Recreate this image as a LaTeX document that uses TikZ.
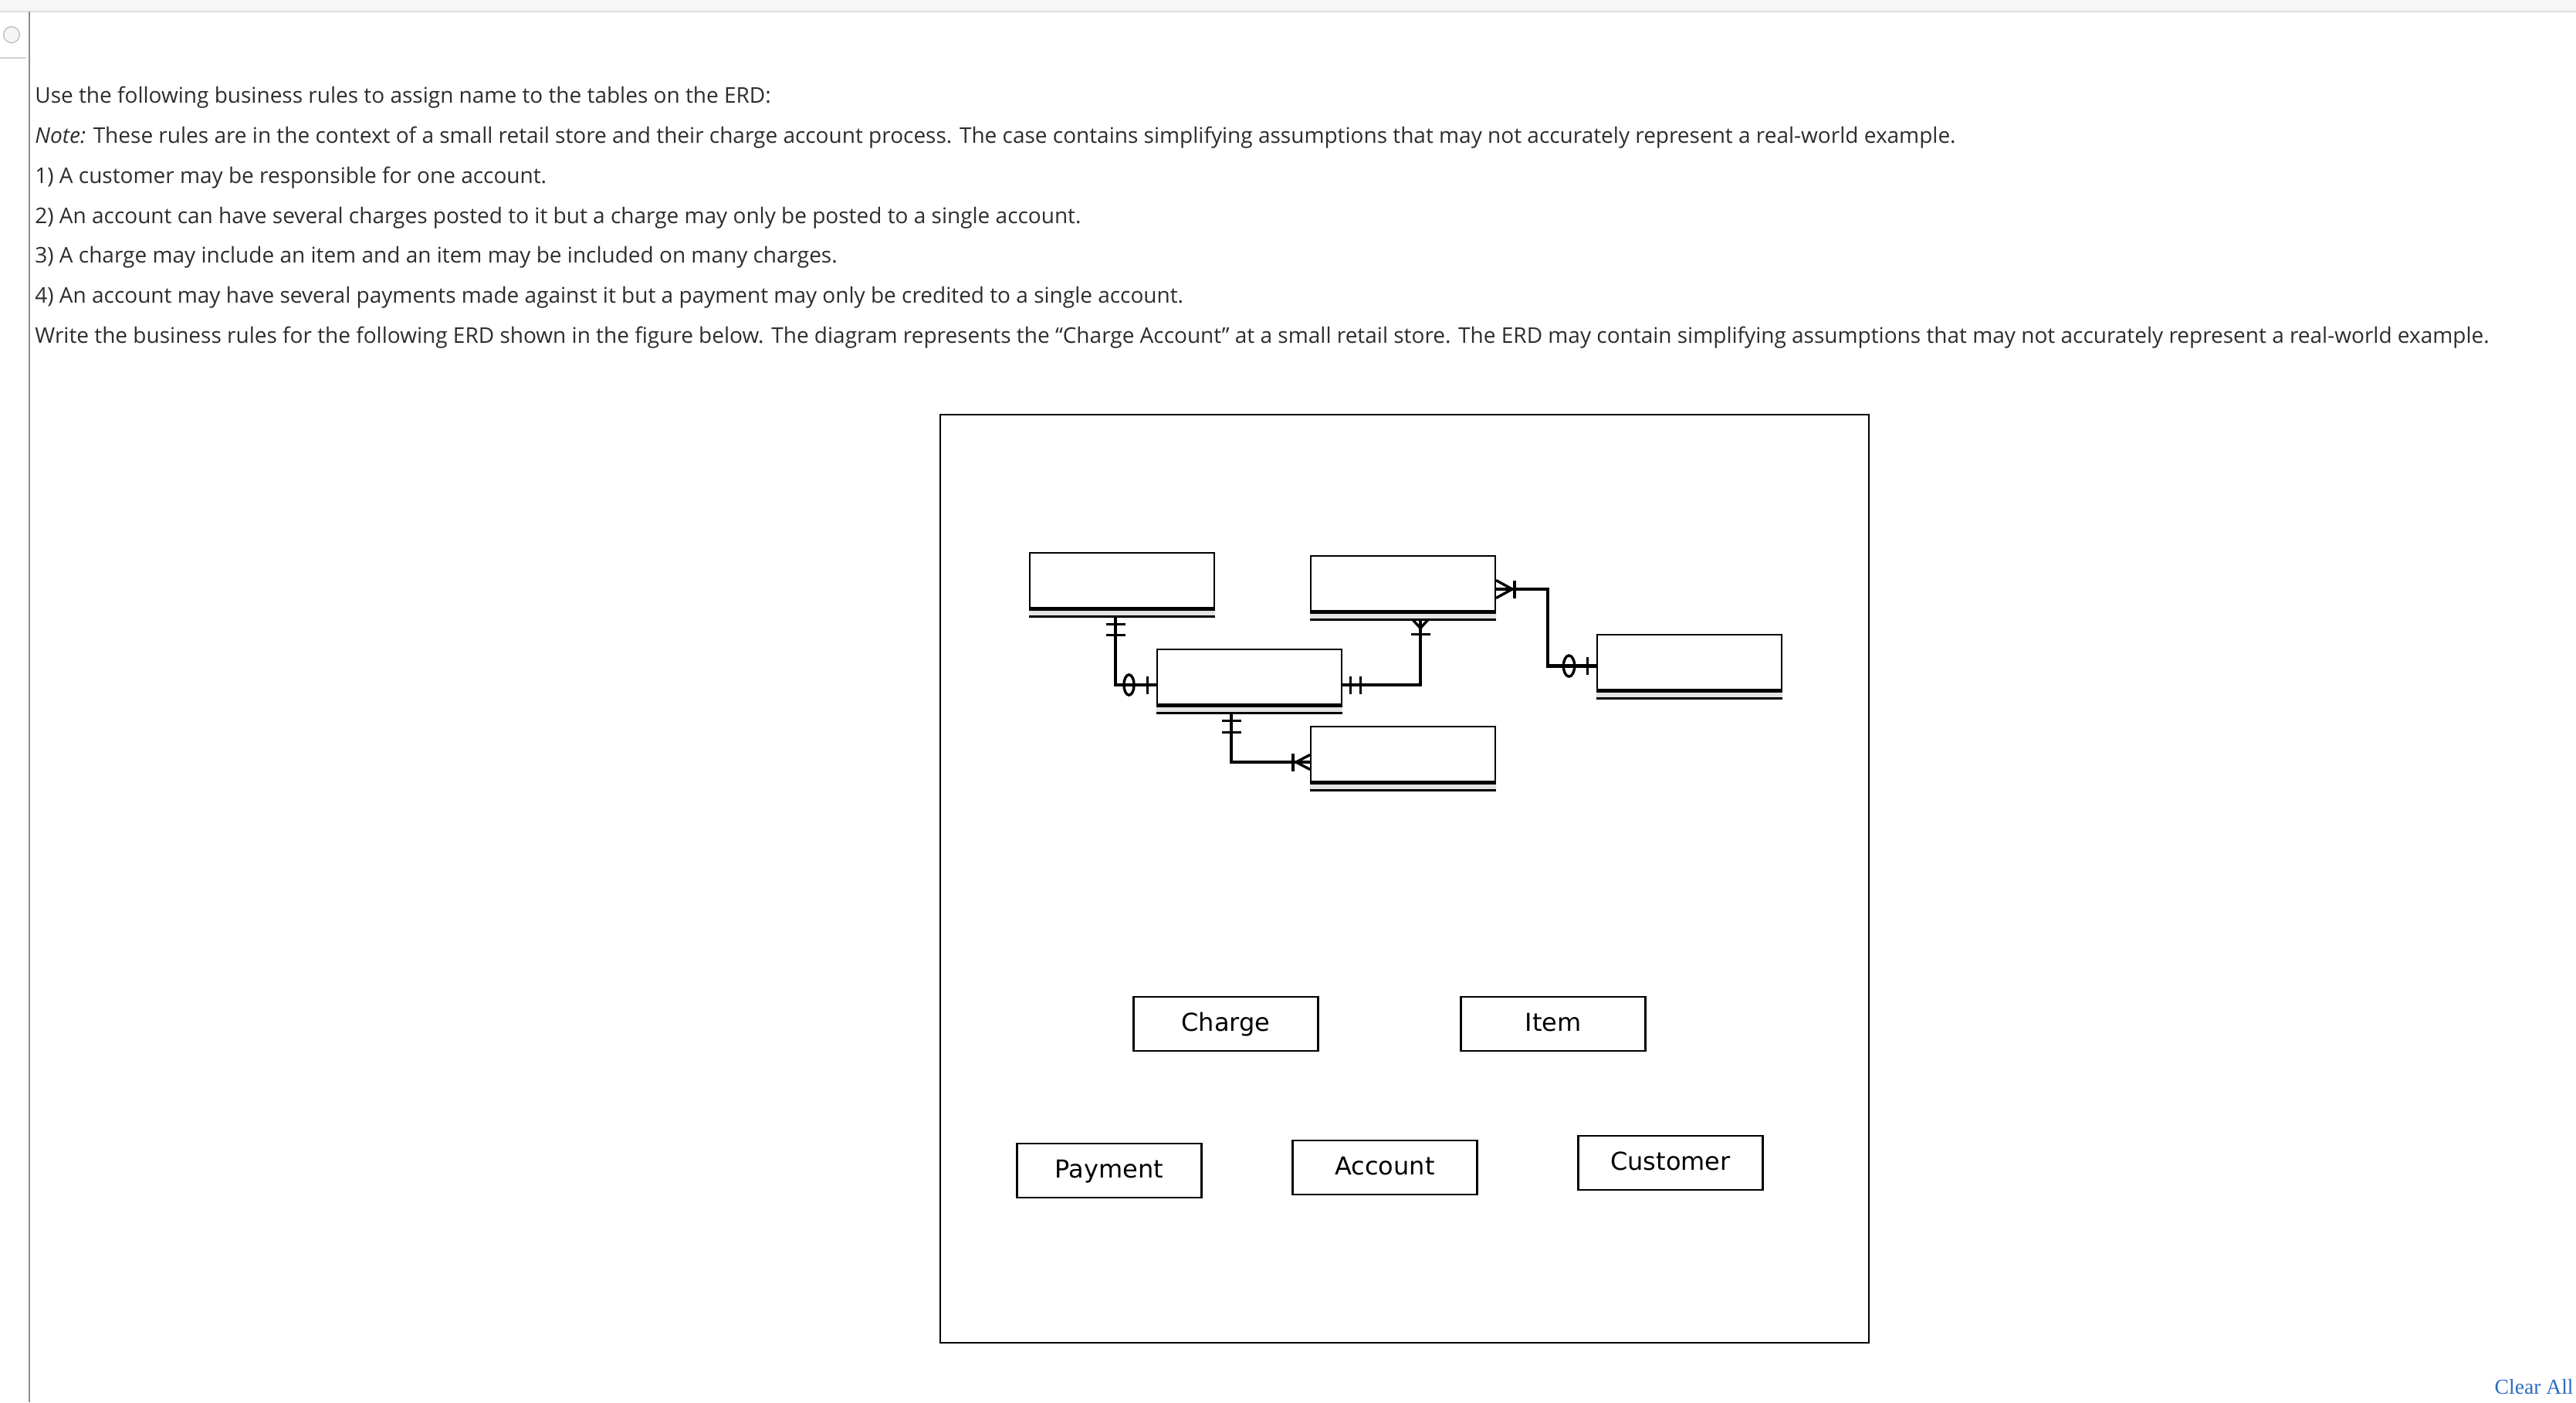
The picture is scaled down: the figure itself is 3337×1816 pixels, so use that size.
\documentclass[tikz,border=0pt]{standalone}
\usepackage{fontspec}
\setmainfont{Open Sans}
\newfontfamily\labelfont{DejaVu Sans}
\newfontfamily\clearfont{Liberation Serif}
\usetikzlibrary{calc}
\definecolor{txt}{HTML}{2D2D2D}
\definecolor{bluelink}{RGB}{43,108,192}
\definecolor{sideline}{HTML}{7D8FA3}
\begin{document}
\begin{tikzpicture}[x=0.5pt,y=-0.5pt,
  erd/.style={draw=black, line width=1pt, fill=white, minimum width=119.5pt, minimum height=41pt, inner sep=0pt},
  lab/.style={draw=black, line width=1.1pt, minimum width=119.5pt, minimum height=35pt, inner sep=0pt,
    font=\labelfont\fontsize{16}{18}\selectfont, text=black, text height=11pt, text depth=2pt},
  conn/.style={line width=2.2pt, line join=miter},
  mk/.style={line width=1.7pt},
  para/.style={anchor=base west, inner sep=0pt, text=txt, font=\fontsize{14}{17}\selectfont}
]
\useasboundingbox (0,0) rectangle (3337,1816);
\fill[white] (0,0) rectangle (3337,1816);
% page chrome
\fill[gray!7] (0,0) rectangle (3337,14);
\draw[gray!25, line width=1pt] (0,15) -- (3337,15);
\draw[sideline, line width=1.3pt] (38,15) -- (38,1816);
\draw[gray!55, line width=0.6pt, fill=gray!8] (15,45) circle [radius=5.2pt];
\draw[gray!35, line width=0.8pt] (0,75) -- (34,75);
% text
\node[para] (t1) at (45,133) {Use the following business rules to assign name to the tables on the ERD:};
\node[para] (t2) at (45,185) {\textit{Note:} These rules are in the context of a small retail store and their charge account process. The case contains simplifying assumptions that may not accurately represent a real-world example.};
\node[para] (t3) at (45,237) {1) A customer may be responsible for one account.};
\node[para] (t4) at (45,289) {2) An account can have several charges posted to it but a charge may only be posted to a single account.};
\node[para] (t5) at (45,340) {3) A charge may include an item and an item may be included on many charges.};
\node[para] (t6) at (45,392) {4) An account may have several payments made against it but a payment may only be credited to a single account.};
\node[para] (t7) at (45,444) {Write the business rules for the following ERD shown in the figure below. The diagram represents the “Charge Account” at a small retail store. The ERD may contain simplifying assumptions that may not accurately represent a real-world example.};
\node[anchor=base east, inner sep=0pt, text=bluelink, font=\clearfont\fontsize{13.8}{16}\selectfont] (clear) at (3334,1805) {Clear All};
% outer frame
\draw[line width=1.2pt] (1218,537) rectangle (2421,1739);
% ERD entities
\node[erd] (A) at (1453.5,756.5) {};
\node[erd] (B) at (1817.5,760.5) {};
\node[erd] (C) at (1618,881.5) {};
\node[erd] (D) at (1817.5,981.5) {};
\node[erd] (E) at (2188,862.5) {};
\foreach \n in {A,B,C,D,E}{
  \fill[gray!22] ($(\n.south west)+(0,-10)$) rectangle (\n.south east);
  \draw[line width=2.2pt] ($(\n.south west)+(0,-10)$) -- ($(\n.south east)+(0,-10)$);
  \draw[line width=1.5pt] (\n.south west) -- (\n.south east);
}
% connection points
\coordinate (acA) at ($(A.south)+(-8.5,0)$);
\coordinate (acC) at ($(C.west)+(0,5.5)$);
\coordinate (cbC) at ($(C.east)+(0,5.5)$);
\coordinate (cbB) at ($(B.south)+(22.5,0)$);
\coordinate (beB) at ($(B.east)+(0,2.5)$);
\coordinate (cdC) at ($(C.south)+(-23,0)$);
\coordinate (cdD) at ($(D.west)+(0,5.5)$);
% A - C
\draw[conn] (acA) |- (acC);
\draw[mk] ($(acA)+(-12.5,10)$) -- ++(25,0);
\draw[mk] ($(acA)+(-12.5,24)$) -- ++(25,0);
\draw[mk] ($(acC)+(-35,0)$) ellipse [x radius=3.3pt, y radius=6.6pt];
\draw[mk] ($(acC)+(-11,-11.5)$) -- ++(0,23);
% C - B
\draw[conn] (cbC) -| (cbB);
\draw[mk] ($(cbC)+(11,-11.5)$) -- ++(0,23);
\draw[mk] ($(cbC)+(24,-11.5)$) -- ++(0,23);
\draw[mk] ($(cbB)+(-12.5,19)$) -- ++(25,0);
\draw[mk] ($(cbB)+(-10,0)$) -- ($(cbB)+(0,11)$) -- ($(cbB)+(10,0)$);
% B - E
\draw[conn] (beB) -- ++(67,0) |- (E.west);
\draw[mk] ($(beB)+(0,-11.5)$) -- ($(beB)+(21,0)$) -- ($(beB)+(0,11.5)$);
\draw[mk] ($(beB)+(24,-11.5)$) -- ++(0,23);
\draw[mk] ($(E.west)+(-35,0)$) ellipse [x radius=3.6pt, y radius=6.8pt];
\draw[mk] ($(E.west)+(-11,-11.5)$) -- ++(0,23);
% C - D
\draw[conn] (cdC) |- (cdD);
\draw[mk] ($(cdC)+(-12.5,10)$) -- ++(25,0);
\draw[mk] ($(cdC)+(-12.5,25)$) -- ++(25,0);
\draw[mk] ($(cdD)+(-22,-11.5)$) -- ++(0,23);
\draw[mk] ($(cdD)+(0,-9.5)$) -- ($(cdD)+(-18,0)$) -- ($(cdD)+(0,9.5)$);
% name labels
\node[lab] (charge) at (1588,1326) {Charge};
\node[lab] (item) at (2012,1326) {Item};
\node[lab] (payment) at (1437,1516) {Payment};
\node[lab] (account) at (1794,1512) {Account};
\node[lab] (customer) at (2164,1506) {Customer};
\end{tikzpicture}
\end{document}
